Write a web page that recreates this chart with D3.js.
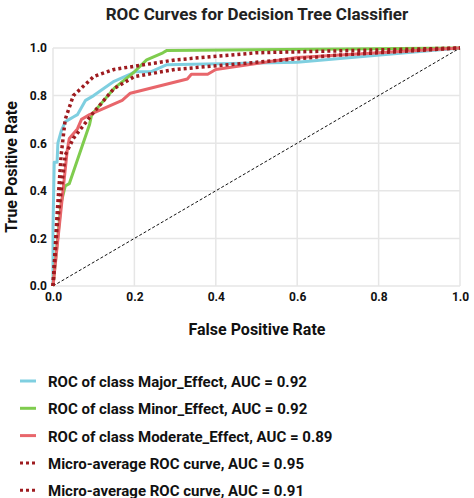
<!DOCTYPE html>
<html><head><meta charset="utf-8">
<script src="https://cdn.jsdelivr.net/npm/d3@7"></script>
<style>body{margin:0;background:#fff}text{font-family:Roboto,"Liberation Sans",sans-serif}</style>
</head><body><div id="general"></div>
<script>
const w = 474, h = 498;
const m = {l: 53, r: 14, t: 48, b: 212};

const ticks = [0, 0.2, 0.4, 0.6, 0.8, 1.0];
const majorFpr = [0, 0, 0.003, 0.01, 0.012, 0.02, 0.03, 0.04, 0.05, 0.06, 0.08, 0.1, 0.15, 0.19, 0.2, 0.24, 0.28, 0.6, 1];
const majorTpr = [0, 0.25, 0.52, 0.52, 0.6, 0.65, 0.69, 0.70, 0.71, 0.72, 0.78, 0.8, 0.86, 0.89, 0.9, 0.90, 0.93, 0.94, 1];
const minorFpr = [0, 0.02, 0.03, 0.04, 0.09, 0.095, 0.15, 0.2, 0.23, 0.27, 0.28, 1];
const minorTpr = [0, 0.35, 0.42, 0.43, 0.68, 0.72, 0.83, 0.9, 0.95, 0.98, 0.99, 1];
const modFpr = [0, 0.035, 0.04, 0.06, 0.07, 0.09, 0.17, 0.19, 0.33, 0.34, 0.38, 0.4, 0.6, 1];
const modTpr = [0, 0.57, 0.62, 0.66, 0.70, 0.72, 0.78, 0.81, 0.87, 0.89, 0.89, 0.91, 0.96, 1];
const micro1Fpr = [0, 0.01, 0.02, 0.03, 0.05, 0.1, 0.15, 0.3, 0.5, 1];
const micro1Tpr = [0, 0.3, 0.55, 0.7, 0.8, 0.88, 0.91, 0.95, 0.98, 1];
const micro2Fpr = [0, 0.01, 0.03, 0.05, 0.1, 0.15, 0.2, 0.3, 0.5, 0.7, 1];
const micro2Tpr = [0, 0.25, 0.55, 0.62, 0.73, 0.83, 0.88, 0.91, 0.94, 0.97, 1];

const series = [
  {name: "ROC of class Major_Effect, AUC = 0.92", x: majorFpr, y: majorTpr, color: "#7fcfe0", dash: null, width: 3},
  {name: "ROC of class Minor_Effect, AUC = 0.92", x: minorFpr, y: minorTpr, color: "#7fcc4e", dash: null, width: 3},
  {name: "ROC of class Moderate_Effect, AUC = 0.89", x: modFpr, y: modTpr, color: "#e8666b", dash: null, width: 3},
  {name: "Micro-average ROC curve, AUC = 0.95", x: micro1Fpr, y: micro1Tpr, color: "#9e1b1f", dash: "3,3", width: 3.5},
  {name: "Micro-average ROC curve, AUC = 0.91", x: micro2Fpr, y: micro2Tpr, color: "#9e1b1f", dash: "3,3", width: 3.5}
];

const x = d3.scaleLinear().domain([0, 1]).range([m.l, w - m.r]);
const y = d3.scaleLinear().domain([0, 1]).range([286, m.t]);

const svg = d3.select("#general").append("svg").attr("width", w).attr("height", h);

const grid = svg.append("g").attr("stroke", "#e6e6e6").attr("stroke-width", 1.5);
grid.selectAll(".gx").data(ticks).join("line")
  .attr("x1", d => x(d)).attr("x2", d => x(d)).attr("y1", y(0)).attr("y2", y(1));
grid.selectAll(".gy").data(ticks).join("line")
  .attr("y1", d => y(d)).attr("y2", d => y(d)).attr("x1", x(0)).attr("x2", x(1));

svg.append("g").attr("transform", `translate(0,${y(0)})`)
  .call(d3.axisBottom(x).tickValues(ticks).tickFormat(d3.format(".1f")).tickSize(0).tickPadding(6))
  .call(g => g.select(".domain").remove())
  .selectAll("text").attr("font-size", 12).attr("font-weight", "bold").attr("fill", "#111");
svg.append("g").attr("transform", `translate(${x(0)},0)`)
  .call(d3.axisLeft(y).tickValues(ticks).tickFormat(d3.format(".1f")).tickSize(0).tickPadding(6))
  .call(g => g.select(".domain").remove())
  .selectAll("text").attr("font-size", 12).attr("font-weight", "bold").attr("fill", "#111");

svg.append("line").attr("x1", x(0)).attr("y1", y(0)).attr("x2", x(1)).attr("y2", y(1))
  .attr("stroke", "#111").attr("stroke-width", 1).attr("stroke-dasharray", "3,2");

const line = d3.line().x(d => x(d[0])).y(d => y(d[1]));
series.forEach(s => {
  svg.append("path").datum(d3.zip(s.x, s.y)).attr("d", line)
    .attr("fill", "none").attr("stroke", s.color).attr("stroke-width", s.width)
    .attr("stroke-dasharray", s.dash).attr("stroke-linejoin", "round");
});

svg.append("text").attr("x", 257).attr("y", 20).attr("text-anchor", "middle")
  .attr("font-size", 17).attr("font-weight", "bold").attr("fill", "#222").text("ROC Curves for Decision Tree Classifier");
svg.append("text").attr("x", 257).attr("y", 335).attr("text-anchor", "middle")
  .attr("font-size", 16).attr("font-weight", "bold").attr("fill", "#111").text("False Positive Rate");
svg.append("text").attr("transform", `translate(17,${(y(0) + y(1)) / 2}) rotate(-90)`).attr("text-anchor", "middle")
  .attr("font-size", 16).attr("font-weight", "bold").attr("fill", "#111").text("True Positive Rate");

const leg = svg.append("g").selectAll("g").data(series).join("g")
  .attr("transform", (d, i) => `translate(0,${387 + i * 27.3})`);
leg.append("line").attr("x1", 20).attr("x2", 36).attr("y1", -6).attr("y2", -6)
  .attr("stroke", d => d.color).attr("stroke-width", 3).attr("stroke-dasharray", d => d.dash);
leg.append("text").attr("x", 48).attr("y", 0).attr("font-size", 15).attr("font-weight", "bold")
  .attr("fill", "#111").text(d => d.name);
</script></body></html>
